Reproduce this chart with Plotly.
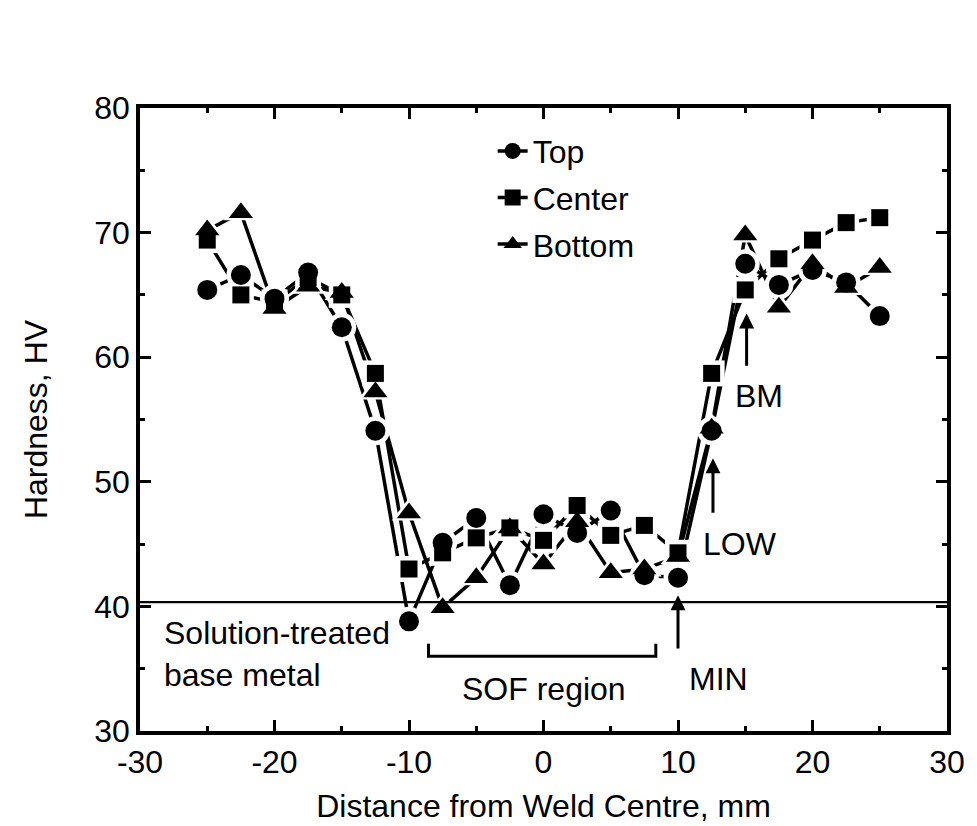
import plotly.graph_objects as go

# ---------------- data ----------------
distance = [-25, -22.5, -20, -17.5, -15, -12.5, -10, -7.5, -5, -2.5, 0,
            2.5, 5, 7.5, 10, 12.5, 15, 17.5, 20, 22.5, 25]
top_hv = [65.4, 66.6, 64.7, 66.8, 62.4, 54.1, 38.8, 45.1, 47.1, 41.7, 47.4,
          45.9, 47.7, 42.5, 42.3, 54.1, 67.5, 65.8, 67.0, 66.0, 63.3]
center_hv = [69.4, 65.0, 64.4, 66.4, 65.0, 58.7, 43.0, 44.3, 45.5, 46.3, 45.3,
             48.1, 45.7, 46.5, 44.3, 58.7, 65.4, 67.9, 69.4, 70.8, 71.2]
bottom_hv = [70.2, 71.6, 63.9, 65.7, 65.2, 57.2, 47.5, 39.9, 42.3, 46.3, 43.4,
             46.8, 42.7, 43.0, 44.0, 54.3, 69.8, 64.0, 67.5, 65.6, 67.2]

series_names = ["Top", "Center", "Bottom"]
series_values = [top_hv, center_hv, bottom_hv]
series_symbols = ["circle", "square", "triangle-up"]
series_sizes = [20, 17, 21]

base_metal_hv = 40.35                # solution-treated base metal level
sof_range = [-8.55, 8.35]            # SOF region bracket extent
sof_bracket_y = [36.0, 37.0]

arrow_labels = ["MIN", "LOW", "BM"]
arrow_x = [10.0, 12.6, 15.1]
arrow_head_y = [40.9, 51.9, 63.5]
arrow_tail_y = [36.5, 47.4, 59.2]
arrow_text_x = [13.0, 14.6, 16.0]
arrow_text_y = [34.2, 45.0, 56.85]

x_ticks = [-30, -20, -10, 0, 10, 20, 30]
x_tick_text = ["-30", "-20", "-10", "0", "10", "20", "30"]
y_ticks = [30, 40, 50, 60, 70, 80]
y_tick_text = ["30", "40", "50", "60", "70", "80"]

FONT = "Liberation Sans, Arial, Helvetica, sans-serif"
FS = 32

fig = go.Figure()

# lines + markers (legend entries)
for i, (name, vals, sym, sz) in enumerate(zip(series_names, series_values, series_symbols, series_sizes)):
    fig.add_trace(go.Scatter(
        x=distance, y=vals, name=name, mode="lines+markers",
        line=dict(color="black", width=3.5),
        marker=dict(symbol=sym, size=sz, color="black"),
        legendgroup=name, legendrank=i + 1, hoverinfo="skip",
    ))
# white halos to give the gap-to-symbol look
for name, vals, sym, sz in zip(series_names, series_values, series_symbols, series_sizes):
    fig.add_trace(go.Scatter(
        x=distance, y=vals, mode="markers", showlegend=False,
        marker=dict(symbol=sym, size=sz + 9, color="white"),
        hoverinfo="skip",
    ))
# black markers on top
for name, vals, sym, sz in zip(series_names, series_values, series_symbols, series_sizes):
    fig.add_trace(go.Scatter(
        x=distance, y=vals, mode="markers", showlegend=False,
        marker=dict(symbol=sym, size=sz, color="black"),
        hoverinfo="skip",
    ))

# base metal reference line
fig.add_shape(type="line", xref="paper", yref="y", x0=0, x1=1,
              y0=base_metal_hv, y1=base_metal_hv,
              line=dict(color="black", width=2.2), layer="above")

# SOF bracket
fig.add_shape(type="path", xref="x", yref="y",
              path=(f"M {sof_range[0]} {sof_bracket_y[1]} L {sof_range[0]} {sof_bracket_y[0]} "
                    f"L {sof_range[1]} {sof_bracket_y[0]} L {sof_range[1]} {sof_bracket_y[1]}"),
              line=dict(color="black", width=3), layer="above")

# arrows
for lab, ax_, hy, ty, tx, tyy in zip(arrow_labels, arrow_x, arrow_head_y, arrow_tail_y, arrow_text_x, arrow_text_y):
    fig.add_annotation(x=ax_, y=hy, ax=ax_, ay=ty, xref="x", yref="y", axref="x", ayref="y",
                       text="", showarrow=True, arrowhead=2, arrowsize=1.0, arrowwidth=3,
                       arrowcolor="black")
    fig.add_annotation(x=tx, y=tyy, xref="x", yref="y", text=lab, showarrow=False,
                       font=dict(family=FONT, size=FS, color="black"))

fig.add_annotation(x=0.05, y=33.4, xref="x", yref="y", text="SOF region", showarrow=False,
                   font=dict(family=FONT, size=FS, color="black"))
fig.add_annotation(x=-28.4, y=36.15, xref="x", yref="y", text="Solution-treated<br>base metal",
                   showarrow=False, xanchor="left", align="left",
                   font=dict(family=FONT, size=FS, color="black"))

axis_common = dict(
    showline=True, linecolor="black", linewidth=3.5, mirror="allticks",
    ticks="inside", ticklen=11, tickwidth=3, tickcolor="black",
    showgrid=False, zeroline=False, automargin=False,
    tickfont=dict(family=FONT, size=FS, color="black"),
    minor=dict(ticks="inside", ticklen=5, tickwidth=3, tickcolor="black", dtick=5, showgrid=False),
)

fig.update_xaxes(range=[-30, 30], tickvals=x_ticks, ticktext=x_tick_text,
                 title=dict(text="Distance from Weld Centre, mm",
                            font=dict(family=FONT, size=FS, color="black"), standoff=16),
                 **axis_common)
fig.update_yaxes(range=[30, 80], tickvals=y_ticks, ticktext=y_tick_text,
                 title=dict(text="Hardness, HV",
                            font=dict(family=FONT, size=FS, color="black"), standoff=38),
                 **axis_common)

fig.update_layout(
    width=977, height=826,
    margin=dict(l=140, r=30, t=108, b=95),
    paper_bgcolor="white", plot_bgcolor="white",
    font=dict(family=FONT, size=FS, color="black"),
    legend=dict(x=0.437, y=0.975, xanchor="left", yanchor="top",
                bgcolor="rgba(0,0,0,0)", tracegroupgap=2,
                font=dict(family=FONT, size=FS, color="black")),
    showlegend=True,
)

fig.write_html("out.html")
